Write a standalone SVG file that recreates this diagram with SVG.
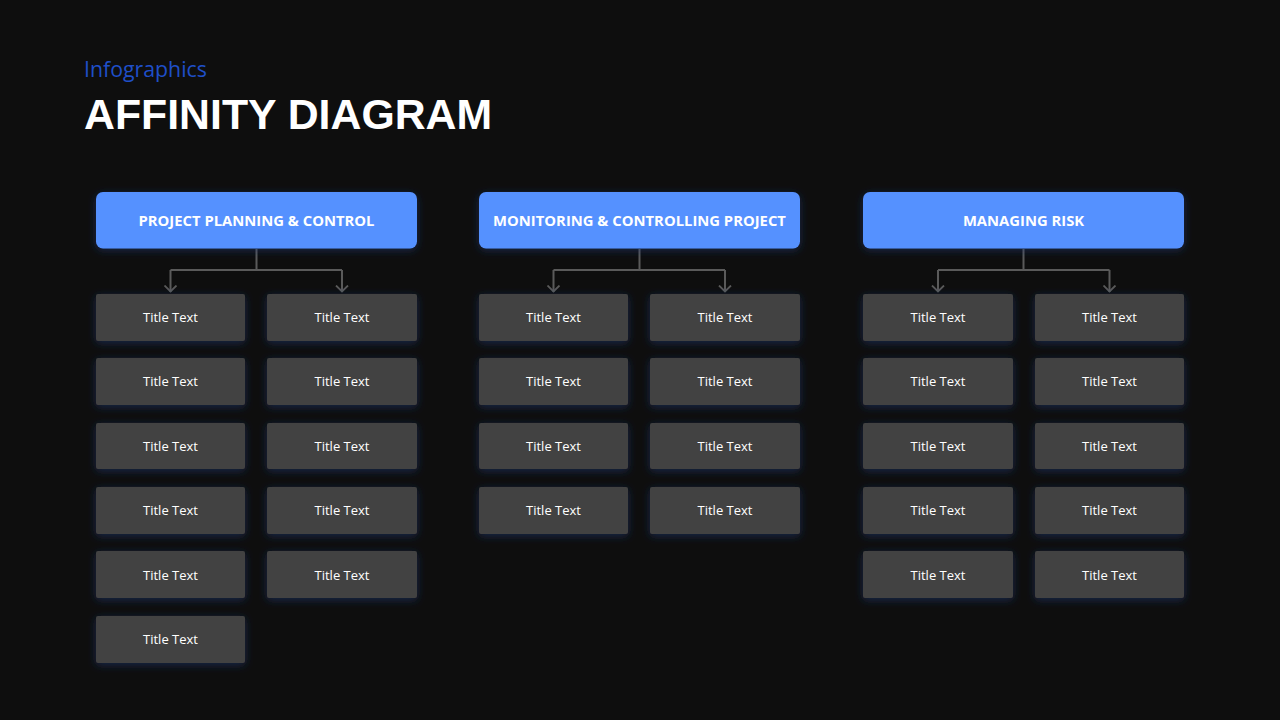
<svg xmlns="http://www.w3.org/2000/svg" width="1280" height="720" viewBox="0 0 1280 720">
<defs>
<filter id="glow" x="-20%" y="-30%" width="140%" height="170%">
<feDropShadow dx="0" dy="2" stdDeviation="4" flood-color="#1a3a7a" flood-opacity="0.55"/>
</filter>
<marker id="chev" viewBox="0 0 14 8" refX="7" refY="7.5" markerWidth="14" markerHeight="8" markerUnits="userSpaceOnUse" orient="0">
<path d="M1,1 L7,7 L13,1" fill="none" stroke="#5a5a5a" stroke-width="1.8"/>
</marker>
</defs>
<style>
.hdr{fill:#5591ff;filter:url(#glow)}
.hdrt{font-family:"Open Sans","Noto Sans",sans-serif;font-weight:700;font-size:14.8px;fill:#ffffff;text-anchor:middle}
.item{fill:#424242;filter:url(#glow)}
.itemt{font-family:"Open Sans","Noto Sans",sans-serif;font-size:13px;fill:#ffffff;text-anchor:middle}
.conn{fill:none;stroke:#5a5a5a;stroke-width:2}
</style>
<rect width="1280" height="720" fill="#0e0e0e"/>
<text x="84" y="77" font-family="'Open Sans','Noto Sans',sans-serif" font-size="21.3" fill="#1f4fc8">Infographics</text>
<text x="84" y="129" font-family="'Liberation Sans',Arial,sans-serif" font-weight="700" font-size="42.8" fill="#ffffff">AFFINITY DIAGRAM</text>

<g id="connectors">
<path class="conn" d="M256.5,249 V270 M170.5,270 H342"/>
<path class="conn" d="M170.5,270 V292" marker-end="url(#chev)"/>
<path class="conn" d="M342,270 V292" marker-end="url(#chev)"/>
<path class="conn" d="M639.5,249 V270 M553.5,270 H725"/>
<path class="conn" d="M553.5,270 V292" marker-end="url(#chev)"/>
<path class="conn" d="M725,270 V292" marker-end="url(#chev)"/>
<path class="conn" d="M1023.5,249 V270 M938,270 H1109.5"/>
<path class="conn" d="M938,270 V292" marker-end="url(#chev)"/>
<path class="conn" d="M1109.5,270 V292" marker-end="url(#chev)"/>
</g>

<g id="h1"><rect class="hdr" x="96" y="192" width="321" height="56.5" rx="7"/><text class="hdrt" x="256.5" y="225.5">PROJECT PLANNING &amp; CONTROL</text></g>
<g id="h2"><rect class="hdr" x="479" y="192" width="321" height="56.5" rx="7"/><text class="hdrt" x="639.5" y="225.5">MONITORING &amp; CONTROLLING PROJECT</text></g>
<g id="h3"><rect class="hdr" x="863" y="192" width="321" height="56.5" rx="7"/><text class="hdrt" x="1023.5" y="225.5">MANAGING RISK</text></g>

<!-- column 1 -->
<g id="c1l1"><rect class="item" x="96" y="294" width="149" height="47" rx="2"/><text class="itemt" x="170.5" y="322">Title Text</text></g>
<g id="c1l2"><rect class="item" x="96" y="358" width="149" height="47" rx="2"/><text class="itemt" x="170.5" y="386">Title Text</text></g>
<g id="c1l3"><rect class="item" x="96" y="423" width="149" height="46" rx="2"/><text class="itemt" x="170.5" y="451">Title Text</text></g>
<g id="c1l4"><rect class="item" x="96" y="487" width="149" height="47" rx="2"/><text class="itemt" x="170.5" y="515">Title Text</text></g>
<g id="c1l5"><rect class="item" x="96" y="551" width="149" height="47" rx="2"/><text class="itemt" x="170.5" y="580">Title Text</text></g>
<g id="c1l6"><rect class="item" x="96" y="616" width="149" height="47" rx="2"/><text class="itemt" x="170.5" y="644">Title Text</text></g>
<g id="c1r1"><rect class="item" x="267" y="294" width="150" height="47" rx="2"/><text class="itemt" x="342" y="322">Title Text</text></g>
<g id="c1r2"><rect class="item" x="267" y="358" width="150" height="47" rx="2"/><text class="itemt" x="342" y="386">Title Text</text></g>
<g id="c1r3"><rect class="item" x="267" y="423" width="150" height="46" rx="2"/><text class="itemt" x="342" y="451">Title Text</text></g>
<g id="c1r4"><rect class="item" x="267" y="487" width="150" height="47" rx="2"/><text class="itemt" x="342" y="515">Title Text</text></g>
<g id="c1r5"><rect class="item" x="267" y="551" width="150" height="47" rx="2"/><text class="itemt" x="342" y="580">Title Text</text></g>

<!-- column 2 -->
<g id="c2l1"><rect class="item" x="479" y="294" width="149" height="47" rx="2"/><text class="itemt" x="553.5" y="322">Title Text</text></g>
<g id="c2l2"><rect class="item" x="479" y="358" width="149" height="47" rx="2"/><text class="itemt" x="553.5" y="386">Title Text</text></g>
<g id="c2l3"><rect class="item" x="479" y="423" width="149" height="46" rx="2"/><text class="itemt" x="553.5" y="451">Title Text</text></g>
<g id="c2l4"><rect class="item" x="479" y="487" width="149" height="47" rx="2"/><text class="itemt" x="553.5" y="515">Title Text</text></g>
<g id="c2r1"><rect class="item" x="650" y="294" width="150" height="47" rx="2"/><text class="itemt" x="725" y="322">Title Text</text></g>
<g id="c2r2"><rect class="item" x="650" y="358" width="150" height="47" rx="2"/><text class="itemt" x="725" y="386">Title Text</text></g>
<g id="c2r3"><rect class="item" x="650" y="423" width="150" height="46" rx="2"/><text class="itemt" x="725" y="451">Title Text</text></g>
<g id="c2r4"><rect class="item" x="650" y="487" width="150" height="47" rx="2"/><text class="itemt" x="725" y="515">Title Text</text></g>

<!-- column 3 -->
<g id="c3l1"><rect class="item" x="863" y="294" width="150" height="47" rx="2"/><text class="itemt" x="938" y="322">Title Text</text></g>
<g id="c3l2"><rect class="item" x="863" y="358" width="150" height="47" rx="2"/><text class="itemt" x="938" y="386">Title Text</text></g>
<g id="c3l3"><rect class="item" x="863" y="423" width="150" height="46" rx="2"/><text class="itemt" x="938" y="451">Title Text</text></g>
<g id="c3l4"><rect class="item" x="863" y="487" width="150" height="47" rx="2"/><text class="itemt" x="938" y="515">Title Text</text></g>
<g id="c3l5"><rect class="item" x="863" y="551" width="150" height="47" rx="2"/><text class="itemt" x="938" y="580">Title Text</text></g>
<g id="c3r1"><rect class="item" x="1035" y="294" width="149" height="47" rx="2"/><text class="itemt" x="1109.5" y="322">Title Text</text></g>
<g id="c3r2"><rect class="item" x="1035" y="358" width="149" height="47" rx="2"/><text class="itemt" x="1109.5" y="386">Title Text</text></g>
<g id="c3r3"><rect class="item" x="1035" y="423" width="149" height="46" rx="2"/><text class="itemt" x="1109.5" y="451">Title Text</text></g>
<g id="c3r4"><rect class="item" x="1035" y="487" width="149" height="47" rx="2"/><text class="itemt" x="1109.5" y="515">Title Text</text></g>
<g id="c3r5"><rect class="item" x="1035" y="551" width="149" height="47" rx="2"/><text class="itemt" x="1109.5" y="580">Title Text</text></g>
</svg>
